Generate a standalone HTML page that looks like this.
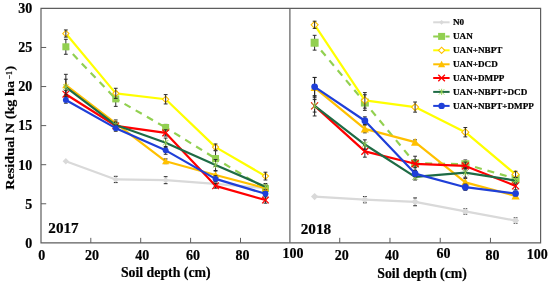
<!DOCTYPE html>
<html lang="en"><head><meta charset="utf-8"><title>Residual N by soil depth</title>
<style>html,body{margin:0;padding:0;background:#fff}svg{display:block}text{font-family:"Liberation Serif","Times New Roman",serif;font-weight:bold;fill:#000;stroke:#000;stroke-width:0.2px}</style>
</head><body>
<svg width="550" height="285" viewBox="0 0 550 285">
<rect width="550" height="285" fill="#fff"/>
<path d="M65.85 161.29L115.75 179.46L165.65 180.17L215.55 183.91L265.45 188.20" fill="none" stroke="#d9d9d9" stroke-width="2.2" stroke-linejoin="round" stroke-linecap="round"/>
<path d="M115.75 176.34V182.58M113.85 176.34h3.8M113.85 182.58h3.8M165.65 176.66V183.68M163.75 176.66h3.8M163.75 183.68h3.8M215.55 181.57V186.25M213.65 181.57h3.8M213.65 186.25h3.8M265.45 185.86V190.54M263.55 185.86h3.8M263.55 190.54h3.8" fill="none" stroke="#222222" stroke-width="0.95"/>
<path d="M62.65 161.29L65.85 158.09L69.05 161.29L65.85 164.49Z" fill="#d9d9d9"/>
<path d="M112.55 179.46L115.75 176.26L118.95 179.46L115.75 182.66Z" fill="#d9d9d9"/>
<path d="M162.45 180.17L165.65 176.97L168.85 180.17L165.65 183.37Z" fill="#d9d9d9"/>
<path d="M212.35 183.91L215.55 180.71L218.75 183.91L215.55 187.11Z" fill="#d9d9d9"/>
<path d="M262.25 188.20L265.45 185.00L268.65 188.20L265.45 191.40Z" fill="#d9d9d9"/>
<path d="M65.85 46.79L115.75 98.89" fill="none" stroke="#92d050" stroke-width="2.2" stroke-dasharray="7 5.9" stroke-dashoffset="2.8"/>
<path d="M115.75 98.89L165.65 127.52" fill="none" stroke="#92d050" stroke-width="2.2" stroke-dasharray="7 5.9" stroke-dashoffset="2.8"/>
<path d="M165.65 127.52L215.55 158.56" fill="none" stroke="#92d050" stroke-width="2.2" stroke-dasharray="7 5.9" stroke-dashoffset="2.8"/>
<path d="M215.55 158.56L265.45 188.59" fill="none" stroke="#92d050" stroke-width="2.2" stroke-dasharray="7 5.9" stroke-dashoffset="2.8"/>
<path d="M65.85 39.30V54.27M63.95 39.30h3.8M63.95 54.27h3.8M115.75 91.40V106.38M113.85 91.40h3.8M113.85 106.38h3.8M165.65 124.40V130.64M163.75 124.40h3.8M163.75 130.64h3.8M215.55 150.76V166.36M213.65 150.76h3.8M213.65 166.36h3.8M265.45 185.47V191.71M263.55 185.47h3.8M263.55 191.71h3.8" fill="none" stroke="#222222" stroke-width="0.95"/>
<rect x="62.35" y="43.29" width="7.00" height="7.00" fill="#92d050"/>
<rect x="112.25" y="95.39" width="7.00" height="7.00" fill="#92d050"/>
<rect x="162.15" y="124.02" width="7.00" height="7.00" fill="#92d050"/>
<rect x="212.05" y="155.06" width="7.00" height="7.00" fill="#92d050"/>
<rect x="261.95" y="185.09" width="7.00" height="7.00" fill="#92d050"/>
<path d="M65.85 33.53L115.75 93.35L165.65 99.28L215.55 147.09L265.45 176.11" fill="none" stroke="#ffff00" stroke-width="2.2" stroke-linejoin="round" stroke-linecap="round"/>
<path d="M62.75 33.53L65.85 30.43L68.95 33.53L65.85 36.63Z" fill="#fff" stroke="#ffc000" stroke-width="1.1"/>
<path d="M112.65 93.35L115.75 90.25L118.85 93.35L115.75 96.45Z" fill="#fff" stroke="#ffc000" stroke-width="1.1"/>
<path d="M162.55 99.28L165.65 96.18L168.75 99.28L165.65 102.38Z" fill="#fff" stroke="#ffc000" stroke-width="1.1"/>
<path d="M212.45 147.09L215.55 143.99L218.65 147.09L215.55 150.19Z" fill="#fff" stroke="#ffc000" stroke-width="1.1"/>
<path d="M262.35 176.11L265.45 173.01L268.55 176.11L265.45 179.21Z" fill="#fff" stroke="#ffc000" stroke-width="1.1"/>
<path d="M65.85 29.94V37.11M63.95 29.94h3.8M63.95 37.11h3.8M115.75 88.28V98.42M113.85 88.28h3.8M113.85 98.42h3.8M165.65 94.60V103.96M163.75 94.60h3.8M163.75 103.96h3.8M215.55 143.97V150.21M213.65 143.97h3.8M213.65 150.21h3.8M265.45 172.21V180.01M263.55 172.21h3.8M263.55 180.01h3.8" fill="none" stroke="#222222" stroke-width="0.95"/>
<path d="M65.85 85.24L115.75 123.46L165.65 161.29L215.55 174.94L265.45 188.20" fill="none" stroke="#ffc000" stroke-width="2.2" stroke-linejoin="round" stroke-linecap="round"/>
<path d="M65.85 74.32V96.16M63.95 74.32h3.8M63.95 96.16h3.8M115.75 119.95V126.97M113.85 119.95h3.8M113.85 126.97h3.8M165.65 158.95V163.63M163.75 158.95h3.8M163.75 163.63h3.8M215.55 171.04V178.84M213.65 171.04h3.8M213.65 178.84h3.8M265.45 185.08V191.32M263.55 185.08h3.8M263.55 191.32h3.8" fill="none" stroke="#222222" stroke-width="0.95"/>
<path d="M65.85 81.64L69.45 88.30L62.25 88.30Z" fill="#ffc000"/>
<path d="M115.75 119.86L119.35 126.52L112.15 126.52Z" fill="#ffc000"/>
<path d="M165.65 157.69L169.25 164.35L162.05 164.35Z" fill="#ffc000"/>
<path d="M215.55 171.34L219.15 178.00L211.95 178.00Z" fill="#ffc000"/>
<path d="M265.45 184.60L269.05 191.26L261.85 191.26Z" fill="#ffc000"/>
<path d="M65.85 94.21L115.75 125.80L165.65 132.90L215.55 185.86L265.45 200.06" fill="none" stroke="#ff0000" stroke-width="2.2" stroke-linejoin="round" stroke-linecap="round"/>
<path d="M65.85 90.31V98.11M63.95 90.31h3.8M63.95 98.11h3.8M115.75 122.68V128.92M113.85 122.68h3.8M113.85 128.92h3.8M165.65 129.78V136.02M163.75 129.78h3.8M163.75 136.02h3.8M215.55 183.52V188.20M213.65 183.52h3.8M213.65 188.20h3.8M265.45 196.94V203.18M263.55 196.94h3.8M263.55 203.18h3.8" fill="none" stroke="#222222" stroke-width="0.95"/>
<path d="M62.55 90.91L69.15 97.51M62.55 97.51L69.15 90.91" stroke="#ff0000" stroke-width="1.25" fill="none"/>
<path d="M112.45 122.50L119.05 129.10M112.45 129.10L119.05 122.50" stroke="#ff0000" stroke-width="1.25" fill="none"/>
<path d="M162.35 129.60L168.95 136.20M162.35 136.20L168.95 129.60" stroke="#ff0000" stroke-width="1.25" fill="none"/>
<path d="M212.25 182.56L218.85 189.16M212.25 189.16L218.85 182.56" stroke="#ff0000" stroke-width="1.25" fill="none"/>
<path d="M262.15 196.76L268.75 203.36M262.15 203.36L268.75 196.76" stroke="#ff0000" stroke-width="1.25" fill="none"/>
<path d="M65.85 87.03L115.75 125.02L165.65 142.73L215.55 165.03L265.45 186.64" fill="none" stroke="#1e6b45" stroke-width="2.2" stroke-linejoin="round" stroke-linecap="round"/>
<path d="M65.85 79.23V94.83M63.95 79.23h3.8M63.95 94.83h3.8M115.75 121.90V128.14M113.85 121.90h3.8M113.85 128.14h3.8M165.65 138.05V147.41M163.75 138.05h3.8M163.75 147.41h3.8M215.55 159.57V170.49M213.65 159.57h3.8M213.65 170.49h3.8M265.45 183.52V189.76M263.55 183.52h3.8M263.55 189.76h3.8" fill="none" stroke="#222222" stroke-width="0.95"/>
<path d="M63.15 84.33L68.55 89.73M63.15 89.73L68.55 84.33M65.85 83.93L65.85 90.14" stroke="#92d050" stroke-width="0.9" fill="none"/>
<path d="M113.05 122.32L118.45 127.72M113.05 127.72L118.45 122.32M115.75 121.92L115.75 128.12" stroke="#92d050" stroke-width="0.9" fill="none"/>
<path d="M162.95 140.03L168.35 145.43M162.95 145.43L168.35 140.03M165.65 139.62L165.65 145.83" stroke="#92d050" stroke-width="0.9" fill="none"/>
<path d="M212.85 162.33L218.25 167.73M212.85 167.73L218.25 162.33M215.55 161.93L215.55 168.14" stroke="#92d050" stroke-width="0.9" fill="none"/>
<path d="M262.75 183.94L268.15 189.34M262.75 189.34L268.15 183.94M265.45 183.54L265.45 189.75" stroke="#92d050" stroke-width="0.9" fill="none"/>
<path d="M65.85 100.06L115.75 128.14L165.65 150.37L215.55 178.84L265.45 193.82" fill="none" stroke="#1f3fd8" stroke-width="2.2" stroke-linejoin="round" stroke-linecap="round"/>
<path d="M65.85 96.94V103.18M63.95 96.94h3.8M63.95 103.18h3.8M115.75 125.02V131.26M113.85 125.02h3.8M113.85 131.26h3.8M165.65 146.47V154.27M163.75 146.47h3.8M163.75 154.27h3.8M215.55 175.72V181.96M213.65 175.72h3.8M213.65 181.96h3.8M265.45 191.48V196.16M263.55 191.48h3.8M263.55 196.16h3.8" fill="none" stroke="#222222" stroke-width="0.95"/>
<circle cx="65.85" cy="100.06" r="2.95" fill="#1f3fd8"/>
<circle cx="115.75" cy="128.14" r="2.95" fill="#1f3fd8"/>
<circle cx="165.65" cy="150.37" r="2.95" fill="#1f3fd8"/>
<circle cx="215.55" cy="178.84" r="2.95" fill="#1f3fd8"/>
<circle cx="265.45" cy="193.82" r="2.95" fill="#1f3fd8"/>
<path d="M314.62 196.62L364.86 199.67L415.10 201.85L465.34 211.44L515.58 220.57" fill="none" stroke="#d9d9d9" stroke-width="2.2" stroke-linejoin="round" stroke-linecap="round"/>
<path d="M364.86 196.55V202.79M362.96 196.55h3.8M362.96 202.79h3.8M415.10 197.95V205.75M413.20 197.95h3.8M413.20 205.75h3.8M465.34 208.71V214.17M463.44 208.71h3.8M463.44 214.17h3.8M515.58 217.84V223.30M513.68 217.84h3.8M513.68 223.30h3.8" fill="none" stroke="#222222" stroke-width="0.95"/>
<path d="M310.97 196.62L314.62 192.98L318.27 196.62L314.62 200.27Z" fill="#d9d9d9"/>
<path d="M361.21 199.67L364.86 196.02L368.51 199.67L364.86 203.31Z" fill="#d9d9d9"/>
<path d="M411.45 201.85L415.10 198.20L418.75 201.85L415.10 205.50Z" fill="#d9d9d9"/>
<path d="M461.69 211.44L465.34 207.80L468.99 211.44L465.34 215.09Z" fill="#d9d9d9"/>
<path d="M511.93 220.57L515.58 216.92L519.23 220.57L515.58 224.22Z" fill="#d9d9d9"/>
<path d="M314.62 42.73L364.86 102.56" fill="none" stroke="#92d050" stroke-width="2.2" stroke-dasharray="7 5.9" stroke-dashoffset="2.8"/>
<path d="M364.86 102.56L415.10 163.24" fill="none" stroke="#92d050" stroke-width="2.2" stroke-dasharray="7 5.9" stroke-dashoffset="2.8"/>
<path d="M415.10 163.24L465.34 164.25" fill="none" stroke="#92d050" stroke-width="2.2" stroke-dasharray="7 5.9" stroke-dashoffset="2.8"/>
<path d="M465.34 164.25L515.58 178.61" fill="none" stroke="#92d050" stroke-width="2.2" stroke-dasharray="7 5.9" stroke-dashoffset="2.8"/>
<path d="M314.62 35.32V50.14M312.72 35.32h3.8M312.72 50.14h3.8M364.86 94.76V110.36M362.96 94.76h3.8M362.96 110.36h3.8M415.10 156.22V170.26M413.20 156.22h3.8M413.20 170.26h3.8M465.34 159.96V168.54M463.44 159.96h3.8M463.44 168.54h3.8M515.58 174.71V182.51M513.68 174.71h3.8M513.68 182.51h3.8" fill="none" stroke="#222222" stroke-width="0.95"/>
<rect x="310.63" y="38.74" width="7.98" height="7.98" fill="#92d050"/>
<rect x="360.87" y="98.57" width="7.98" height="7.98" fill="#92d050"/>
<rect x="411.11" y="159.25" width="7.98" height="7.98" fill="#92d050"/>
<rect x="461.35" y="160.26" width="7.98" height="7.98" fill="#92d050"/>
<rect x="511.59" y="174.62" width="7.98" height="7.98" fill="#92d050"/>
<path d="M314.62 24.79L364.86 100.37L415.10 107.08L465.34 132.20L515.58 174.39" fill="none" stroke="#ffff00" stroke-width="2.2" stroke-linejoin="round" stroke-linecap="round"/>
<path d="M311.09 24.79L314.62 21.26L318.15 24.79L314.62 28.32Z" fill="#fff" stroke="#ffc000" stroke-width="1.1"/>
<path d="M361.33 100.37L364.86 96.84L368.39 100.37L364.86 103.91Z" fill="#fff" stroke="#ffc000" stroke-width="1.1"/>
<path d="M411.57 107.08L415.10 103.55L418.63 107.08L415.10 110.61Z" fill="#fff" stroke="#ffc000" stroke-width="1.1"/>
<path d="M461.81 132.20L465.34 128.66L468.87 132.20L465.34 135.73Z" fill="#fff" stroke="#ffc000" stroke-width="1.1"/>
<path d="M512.05 174.39L515.58 170.86L519.11 174.39L515.58 177.93Z" fill="#fff" stroke="#ffc000" stroke-width="1.1"/>
<path d="M314.62 21.20V28.38M312.72 21.20h3.8M312.72 28.38h3.8M364.86 92.57V108.17M362.96 92.57h3.8M362.96 108.17h3.8M415.10 102.01V112.15M413.20 102.01h3.8M413.20 112.15h3.8M465.34 127.52V136.88M463.44 127.52h3.8M463.44 136.88h3.8M515.58 171.27V177.51M513.68 171.27h3.8M513.68 177.51h3.8" fill="none" stroke="#222222" stroke-width="0.95"/>
<path d="M314.62 87.58L364.86 128.92L415.10 142.18L465.34 182.35L515.58 196.00" fill="none" stroke="#ffc000" stroke-width="2.2" stroke-linejoin="round" stroke-linecap="round"/>
<path d="M314.62 77.44V97.72M312.72 77.44h3.8M312.72 97.72h3.8M364.86 125.02V132.82M362.96 125.02h3.8M362.96 132.82h3.8M415.10 139.84V144.52M413.20 139.84h3.8M413.20 144.52h3.8M465.34 178.45V186.25M463.44 178.45h3.8M463.44 186.25h3.8M515.58 193.66V198.34M513.68 193.66h3.8M513.68 198.34h3.8" fill="none" stroke="#222222" stroke-width="0.95"/>
<path d="M314.62 83.48L318.72 91.07L310.52 91.07Z" fill="#ffc000"/>
<path d="M364.86 124.82L368.96 132.41L360.76 132.41Z" fill="#ffc000"/>
<path d="M415.10 138.08L419.20 145.67L411.00 145.67Z" fill="#ffc000"/>
<path d="M465.34 178.25L469.44 185.84L461.24 185.84Z" fill="#ffc000"/>
<path d="M515.58 191.90L519.68 199.49L511.48 199.49Z" fill="#ffc000"/>
<path d="M314.62 105.83L364.86 151.31L415.10 163.79L465.34 165.97L515.58 185.86" fill="none" stroke="#ff0000" stroke-width="2.2" stroke-linejoin="round" stroke-linecap="round"/>
<path d="M314.62 95.69V115.97M312.72 95.69h3.8M312.72 115.97h3.8M364.86 145.46V157.16M362.96 145.46h3.8M362.96 157.16h3.8M415.10 159.89V167.69M413.20 159.89h3.8M413.20 167.69h3.8M465.34 162.07V169.87M463.44 162.07h3.8M463.44 169.87h3.8M515.58 181.96V189.76M513.68 181.96h3.8M513.68 189.76h3.8" fill="none" stroke="#222222" stroke-width="0.95"/>
<path d="M311.12 102.33L318.12 109.33M311.12 109.33L318.12 102.33" stroke="#ff0000" stroke-width="1.25" fill="none"/>
<path d="M361.36 147.81L368.36 154.80M361.36 154.80L368.36 147.81" stroke="#ff0000" stroke-width="1.25" fill="none"/>
<path d="M411.60 160.29L418.60 167.28M411.60 167.28L418.60 160.29" stroke="#ff0000" stroke-width="1.25" fill="none"/>
<path d="M461.84 162.47L468.84 169.47M461.84 169.47L468.84 162.47" stroke="#ff0000" stroke-width="1.25" fill="none"/>
<path d="M512.08 182.36L519.08 189.36M512.08 189.36L519.08 182.36" stroke="#ff0000" stroke-width="1.25" fill="none"/>
<path d="M314.62 105.83L364.86 144.52L415.10 176.89L465.34 172.60L515.58 180.56" fill="none" stroke="#1e6b45" stroke-width="2.2" stroke-linejoin="round" stroke-linecap="round"/>
<path d="M314.62 99.59V112.07M312.72 99.59h3.8M312.72 112.07h3.8M364.86 139.84V149.20M362.96 139.84h3.8M362.96 149.20h3.8M415.10 173.77V180.01M413.20 173.77h3.8M413.20 180.01h3.8M465.34 167.92V177.28M463.44 167.92h3.8M463.44 177.28h3.8M515.58 177.44V183.68M513.68 177.44h3.8M513.68 183.68h3.8" fill="none" stroke="#222222" stroke-width="0.95"/>
<path d="M311.76 102.97L317.48 108.69M311.76 108.69L317.48 102.97M314.62 102.54L314.62 109.12" stroke="#92d050" stroke-width="0.9" fill="none"/>
<path d="M362.00 141.66L367.72 147.38M362.00 147.38L367.72 141.66M364.86 141.23L364.86 147.81" stroke="#92d050" stroke-width="0.9" fill="none"/>
<path d="M412.24 174.03L417.96 179.75M412.24 179.75L417.96 174.03M415.10 173.60L415.10 180.18" stroke="#92d050" stroke-width="0.9" fill="none"/>
<path d="M462.48 169.74L468.20 175.46M462.48 175.46L468.20 169.74M465.34 169.31L465.34 175.89" stroke="#92d050" stroke-width="0.9" fill="none"/>
<path d="M512.72 177.69L518.44 183.42M512.72 183.42L518.44 177.69M515.58 177.26L515.58 183.85" stroke="#92d050" stroke-width="0.9" fill="none"/>
<path d="M314.62 86.80L364.86 120.73L415.10 173.61L465.34 187.19L515.58 193.50" fill="none" stroke="#1f3fd8" stroke-width="2.2" stroke-linejoin="round" stroke-linecap="round"/>
<path d="M314.62 77.44V96.16M312.72 77.44h3.8M312.72 96.16h3.8M364.86 116.83V124.63M362.96 116.83h3.8M362.96 124.63h3.8M415.10 170.49V176.73M413.20 170.49h3.8M413.20 176.73h3.8M465.34 184.07V190.31M463.44 184.07h3.8M463.44 190.31h3.8M515.58 191.16V195.84M513.68 191.16h3.8M513.68 195.84h3.8" fill="none" stroke="#222222" stroke-width="0.95"/>
<circle cx="314.62" cy="86.80" r="3.36" fill="#1f3fd8"/>
<circle cx="364.86" cy="120.73" r="3.36" fill="#1f3fd8"/>
<circle cx="415.10" cy="173.61" r="3.36" fill="#1f3fd8"/>
<circle cx="465.34" cy="187.19" r="3.36" fill="#1f3fd8"/>
<circle cx="515.58" cy="193.50" r="3.36" fill="#1f3fd8"/>
<path d="M41.0 8.35H540.6V242.85H41.0Z" fill="none" stroke="#5e5e5e" stroke-width="1.2"/>
<path d="M289.9 8.35V242.85" fill="none" stroke="#5e5e5e" stroke-width="1.2"/>
<path d="M41.0 203.77h5.2M41.0 164.70h5.2M41.0 125.62h5.2M41.0 86.55h5.2M41.0 47.47h5.2M90.80 242.85v-5M339.74 242.85v-5M140.70 242.85v-5M389.98 242.85v-5M190.60 242.85v-5M440.22 242.85v-5M240.50 242.85v-5M490.46 242.85v-5" fill="none" stroke="#5e5e5e" stroke-width="1"/>
<text x="32.3" y="247.65" font-size="14" text-anchor="end">0</text>
<text x="32.3" y="208.57" font-size="14" text-anchor="end">5</text>
<text x="32.3" y="169.50" font-size="14" text-anchor="end">10</text>
<text x="32.3" y="130.42" font-size="14" text-anchor="end">15</text>
<text x="32.3" y="91.35" font-size="14" text-anchor="end">20</text>
<text x="32.3" y="52.27" font-size="14" text-anchor="end">25</text>
<text x="32.3" y="13.20" font-size="14" text-anchor="end">30</text>
<text x="41.7" y="259.6" font-size="14" text-anchor="middle">0</text>
<text x="92.0" y="259.6" font-size="14" text-anchor="middle">20</text>
<text x="142.2" y="259.6" font-size="14" text-anchor="middle">40</text>
<text x="193.1" y="259.6" font-size="14" text-anchor="middle">60</text>
<text x="242.5" y="259.6" font-size="14" text-anchor="middle">80</text>
<text x="293.0" y="258.2" font-size="14" text-anchor="middle">100</text>
<text x="341.7" y="260.0" font-size="14" text-anchor="middle">20</text>
<text x="392.1" y="260.0" font-size="14" text-anchor="middle">40</text>
<text x="443.4" y="258.4" font-size="14" text-anchor="middle">60</text>
<text x="492.6" y="260.0" font-size="14" text-anchor="middle">80</text>
<text x="537.2" y="259.4" font-size="14" text-anchor="middle">100</text>
<text x="165.8" y="276.5" font-size="14" text-anchor="middle" textLength="89.8" lengthAdjust="spacingAndGlyphs">Soil depth (cm)</text>
<text x="422.1" y="277.6" font-size="14" text-anchor="middle" textLength="89.6" lengthAdjust="spacingAndGlyphs">Soil depth (cm)</text>
<text transform="translate(14.1 189.8) rotate(-90) scale(1 0.92)" font-size="14.25">Residual N (kg ha<tspan x="110.4" dy="-2.4" font-size="7.8">−1</tspan><tspan x="119.3" dy="2.4" font-size="14.25">)</tspan></text>
<text x="48.3" y="233.3" font-size="15.2">2017</text>
<text x="300.7" y="234.0" font-size="15.2">2018</text>
<path d="M433.2 22.3H449.6" stroke="#d9d9d9" stroke-width="2" fill="none"/>
<path d="M439.20 22.30L441.60 19.90L444.00 22.30L441.60 24.70Z" fill="#d9d9d9"/>
<text x="453.0" y="25.30" font-size="9.15">N0</text>
<path d="M433.2 36.4H438.5M445.5 36.4H449.6" stroke="#92d050" stroke-width="2" fill="none"/>
<rect x="438.10" y="32.90" width="7.00" height="7.00" fill="#92d050"/>
<text x="453.0" y="39.40" font-size="9.15">UAN</text>
<path d="M433.2 50.3H449.6" stroke="#ffff00" stroke-width="2" fill="none"/>
<path d="M438.50 50.30L441.60 47.20L444.70 50.30L441.60 53.40Z" fill="#fff" stroke="#ffc000" stroke-width="1.1"/>
<text x="453.0" y="53.30" font-size="9.15">UAN+NBPT</text>
<path d="M433.2 64.3H449.6" stroke="#ffc000" stroke-width="2" fill="none"/>
<path d="M441.60 60.70L445.20 67.36L438.00 67.36Z" fill="#ffc000"/>
<text x="453.0" y="67.30" font-size="9.15">UAN+DCD</text>
<path d="M433.2 78.0H449.6" stroke="#ff0000" stroke-width="2" fill="none"/>
<path d="M438.30 74.70L444.90 81.30M438.30 81.30L444.90 74.70" stroke="#ff0000" stroke-width="1.25" fill="none"/>
<text x="453.0" y="81.00" font-size="9.15">UAN+DMPP</text>
<path d="M433.2 91.9H449.6" stroke="#1e6b45" stroke-width="2" fill="none"/>
<path d="M438.90 89.20L444.30 94.60M438.90 94.60L444.30 89.20M441.60 88.80L441.60 95.01" stroke="#92d050" stroke-width="0.9" fill="none"/>
<text x="453.0" y="94.90" font-size="9.15">UAN+NBPT+DCD</text>
<path d="M433.2 105.9H449.6" stroke="#1f3fd8" stroke-width="2" fill="none"/>
<circle cx="441.60" cy="105.90" r="3.19" fill="#1f3fd8"/>
<text x="453.0" y="108.90" font-size="9.15">UAN+NBPT+DMPP</text>
</svg>
</body></html>
